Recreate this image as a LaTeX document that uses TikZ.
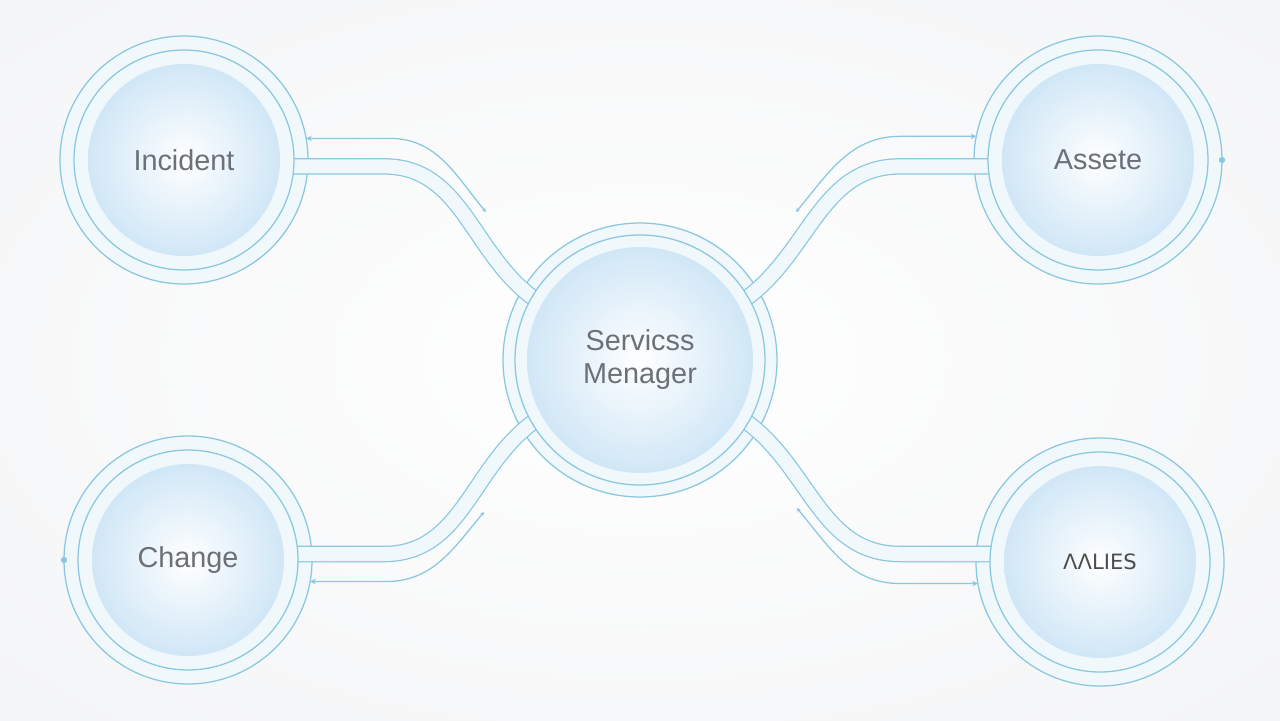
\documentclass[tikz,border=0pt]{standalone}
\usepackage{fontspec}
\setmainfont{Liberation Sans}
\newfontfamily\greekfont{DejaVu Sans}
\usepackage{xcolor}
\usetikzlibrary{calc,arrows.meta}

\definecolor{ringblue}{RGB}{138,200,225}
\definecolor{ringpale}{RGB}{240,248,252}
\definecolor{discblue}{RGB}{186,219,242}
\definecolor{bggray}{RGB}{231,233,236}
\definecolor{txtgray}{RGB}{108,113,119}
\colorlet{discmidA}{white!78!discblue}
\colorlet{discmidB}{white!25!discblue}
\colorlet{bgmid}{white!60!bggray}
\pgfdeclareradialshading{discshade}{\pgfpoint{0bp}{0bp}}{color(0bp)=(white); color(8bp)=(discmidA); color(28bp)=(discmidB); color(50bp)=(discblue)}
\pgfdeclareradialshading{bgshade}{\pgfpoint{0bp}{0bp}}{color(0bp)=(white); color(30bp)=(bgmid); color(71bp)=(bggray)}

\begin{document}
\begin{tikzpicture}[
        ring/.style={shape=circle, inner sep=0pt, draw=ringblue, fill=ringpale, line width=0.9pt},
        disc/.style={shape=circle, inner sep=0pt, shade, shading=discshade, text=txtgray, align=center,
            font=\fontsize{20.5}{23.5}\selectfont},
        band/.style={draw=ringblue, line width=0.9pt, double=ringpale, double distance=0.35cm},
        link/.style={draw=ringblue, line width=0.9pt, {Stealth[length=4pt,width=4pt]}-{Stealth[length=3pt,width=3pt]}},
        pin/.style={shape=circle, inner sep=1.6pt, fill=ringblue}]
        \shade[shading=bgshade] (0,0) rectangle (32,18);
        \useasboundingbox (0,0) rectangle (32,18);

        % outer rings
        \node[ring, minimum size=6.85cm] (svc) at (16,9) {};
        \node[ring, minimum size=6.2cm] (inc) at (4.6,14) {};
        \node[ring, minimum size=6.2cm] (ass) at (27.45,14) {};
        \node[ring, minimum size=6.2cm] (chg) at (4.7,4) {};
        \node[ring, minimum size=6.2cm] (all) at (27.5,3.95) {};

        \node[pin] (asspin) at ($(ass)+(3.1,0)$) {};
        \node[pin] (chgpin) at ($(chg)+(-3.1,0)$) {};

        % double tracks into the hub
        \draw[band] ($(inc)+(2.5,-0.16)$) -- ++(2.5,0) to[out=0,in=145] ($(svc)+(150:3.0)$);
        \draw[band] ($(ass)+(-2.5,-0.16)$) -- ++(-2.45,0) to[out=180,in=35] ($(svc)+(30:3.0)$);
        \draw[band] ($(chg)+(2.5,0.15)$) -- ++(2.4,0) to[out=0,in=-145] ($(svc)+(210:3.0)$);
        \draw[band] ($(all)+(-2.5,0.2)$) -- ++(-2.5,0) to[out=180,in=-35] ($(svc)+(-30:3.0)$);

        % inner rings
        \node[ring, minimum size=6.25cm] (svcin) at (svc) {};
        \node[ring, minimum size=5.5cm] (incin) at (inc) {};
        \node[ring, minimum size=5.5cm] (assin) at (ass) {};
        \node[ring, minimum size=5.5cm] (chgin) at (chg) {};
        \node[ring, minimum size=5.5cm] (allin) at (all) {};

        \node[disc, minimum size=5.65cm] (svcd) at (svc) {Servicss\\Menager};
        \node[disc, minimum size=4.8cm] (incd) at (inc) {Incident};
        \node[disc, minimum size=4.8cm] (assd) at (ass) {Assete};
        \node[disc, minimum size=4.8cm] (chgd) at (chg) {Change};
        \node[disc, minimum size=4.8cm, text=black!70, font=\greekfont\fontsize{15}{18}\selectfont] (alld) at (all) {ΛΛLIES};

        % single arrows
        \coordinate (incend) at (12.15,12.7);
        \coordinate (assend) at (19.9,12.7);
        \coordinate (chgend) at (12.1,5.2);
        \coordinate (allend) at (19.92,5.3);
        \draw[link] ($(inc)+(10:3.1)$) -- ++(2.1,0) to[out=0,in=130] (incend);
        \draw[link] ($(ass)+(169:3.1)$) -- ++(-1.9,0) to[out=180,in=50] (assend);
        \draw[link] ($(chg)+(-10:3.1)$) -- ++(1.9,0) to[out=0,in=-130] (chgend);
        \draw[link] ($(all)+(190:3.1)$) -- ++(-1.95,0) to[out=180,in=-50] (allend);
    \end{tikzpicture}
\end{document}
